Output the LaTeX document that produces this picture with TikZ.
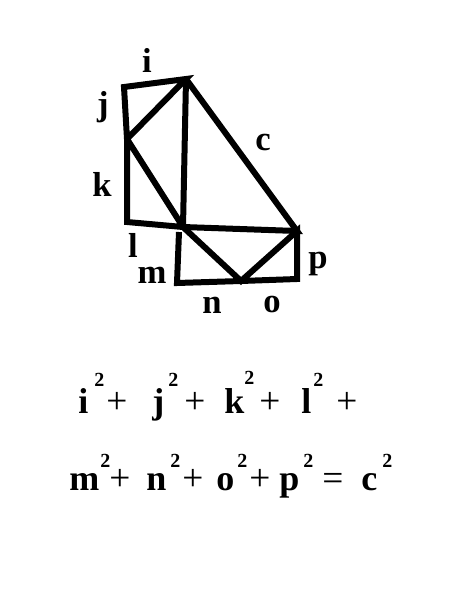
\documentclass[tikz,border=0pt]{standalone}
\usepackage{fontspec}
\setmainfont{Liberation Serif}

\tikzset{
  side/.style={line width=4.5pt,line join=miter},
  lbl/.style={anchor=base,inner sep=0pt,font=\fontsize{26}{26}\selectfont\bfseries},
  eqn/.style={anchor=base west,inner sep=0pt,font=\fontsize{27}{27}\selectfont\bfseries},
  pl/.style={anchor=base west,inner sep=0pt,font=\fontsize{28}{28}\selectfont},
  sup/.style={anchor=base west,inner sep=0pt,font=\fontsize{15}{15}\selectfont\bfseries}
}

\begin{document}
\begin{tikzpicture}[x=0.75pt,y=-0.75pt]
\useasboundingbox (0,0) rectangle (455,593);

 \coordinate (a1) at (186,79);
  \coordinate (a2) at (124,87);
   \coordinate (a3) at (127,139);
    \coordinate (a4) at (127,222);
     \coordinate (a5) at (183,227);
      \coordinate (a6) at (297,231);
       \coordinate (a7) at (297,279);
        \coordinate (a8) at (241,281);
         \coordinate (a9) at (177,283);
          \coordinate (a10) at (179,232);

 \draw[side] (a3) -- (a2) -- (a1) -- (a3) -- (a4) -- (a5) -- (a3);
 \draw[side] (a1) -- (a5) -- (a6) -- (a1);
 \draw[side] (a5) -- (a8) -- (a6) -- (a7) -- (a8);
 \draw[side] (a10) -- (a9) -- (a8);

 \node[lbl] (i) at (147,72) {i};
 \node[lbl] (j) at (103,115) {j};
 \node[lbl] (c) at (263,150) {c};
 \node[lbl] (k) at (102,196) {k};
 \node[lbl] (l) at (133,257) {l};
 \node[lbl] (m) at (152,283) {m};
 \node[lbl] (n) at (212,313) {n};
 \node[lbl] (o) at (272,312) {o};
 \node[lbl] (p) at (318,268) {p};

 % first line of the sum
 \foreach \x/\t [count=\n] in {78/i,152/j,224/k,301/l}
   \node[eqn] (s\n) at (\x,413) {\t};
 \foreach \x [count=\n] in {106,184,259,336}
   \node[pl] (sp\n) at (\x,413) {+};
 \foreach \x/\y [count=\n] in {94/386,168/386,244/384,313/386}
   \node[sup] (sq\n) at (\x,\y) {2};

 % second line
 \foreach \x/\t [count=\n] in {69/m,146/n,216/o,279/p,361/c}
   \node[eqn] (t\n) at (\x,490) {\t};
 \foreach \x/\t [count=\n] in {109/+,182/+,249/+,322/=}
   \node[pl] (tp\n) at (\x,490) {\t};
 \foreach \x [count=\n] in {100,170,237,303,382}
   \node[sup] (tq\n) at (\x,467) {2};

\end{tikzpicture}
\end{document}
